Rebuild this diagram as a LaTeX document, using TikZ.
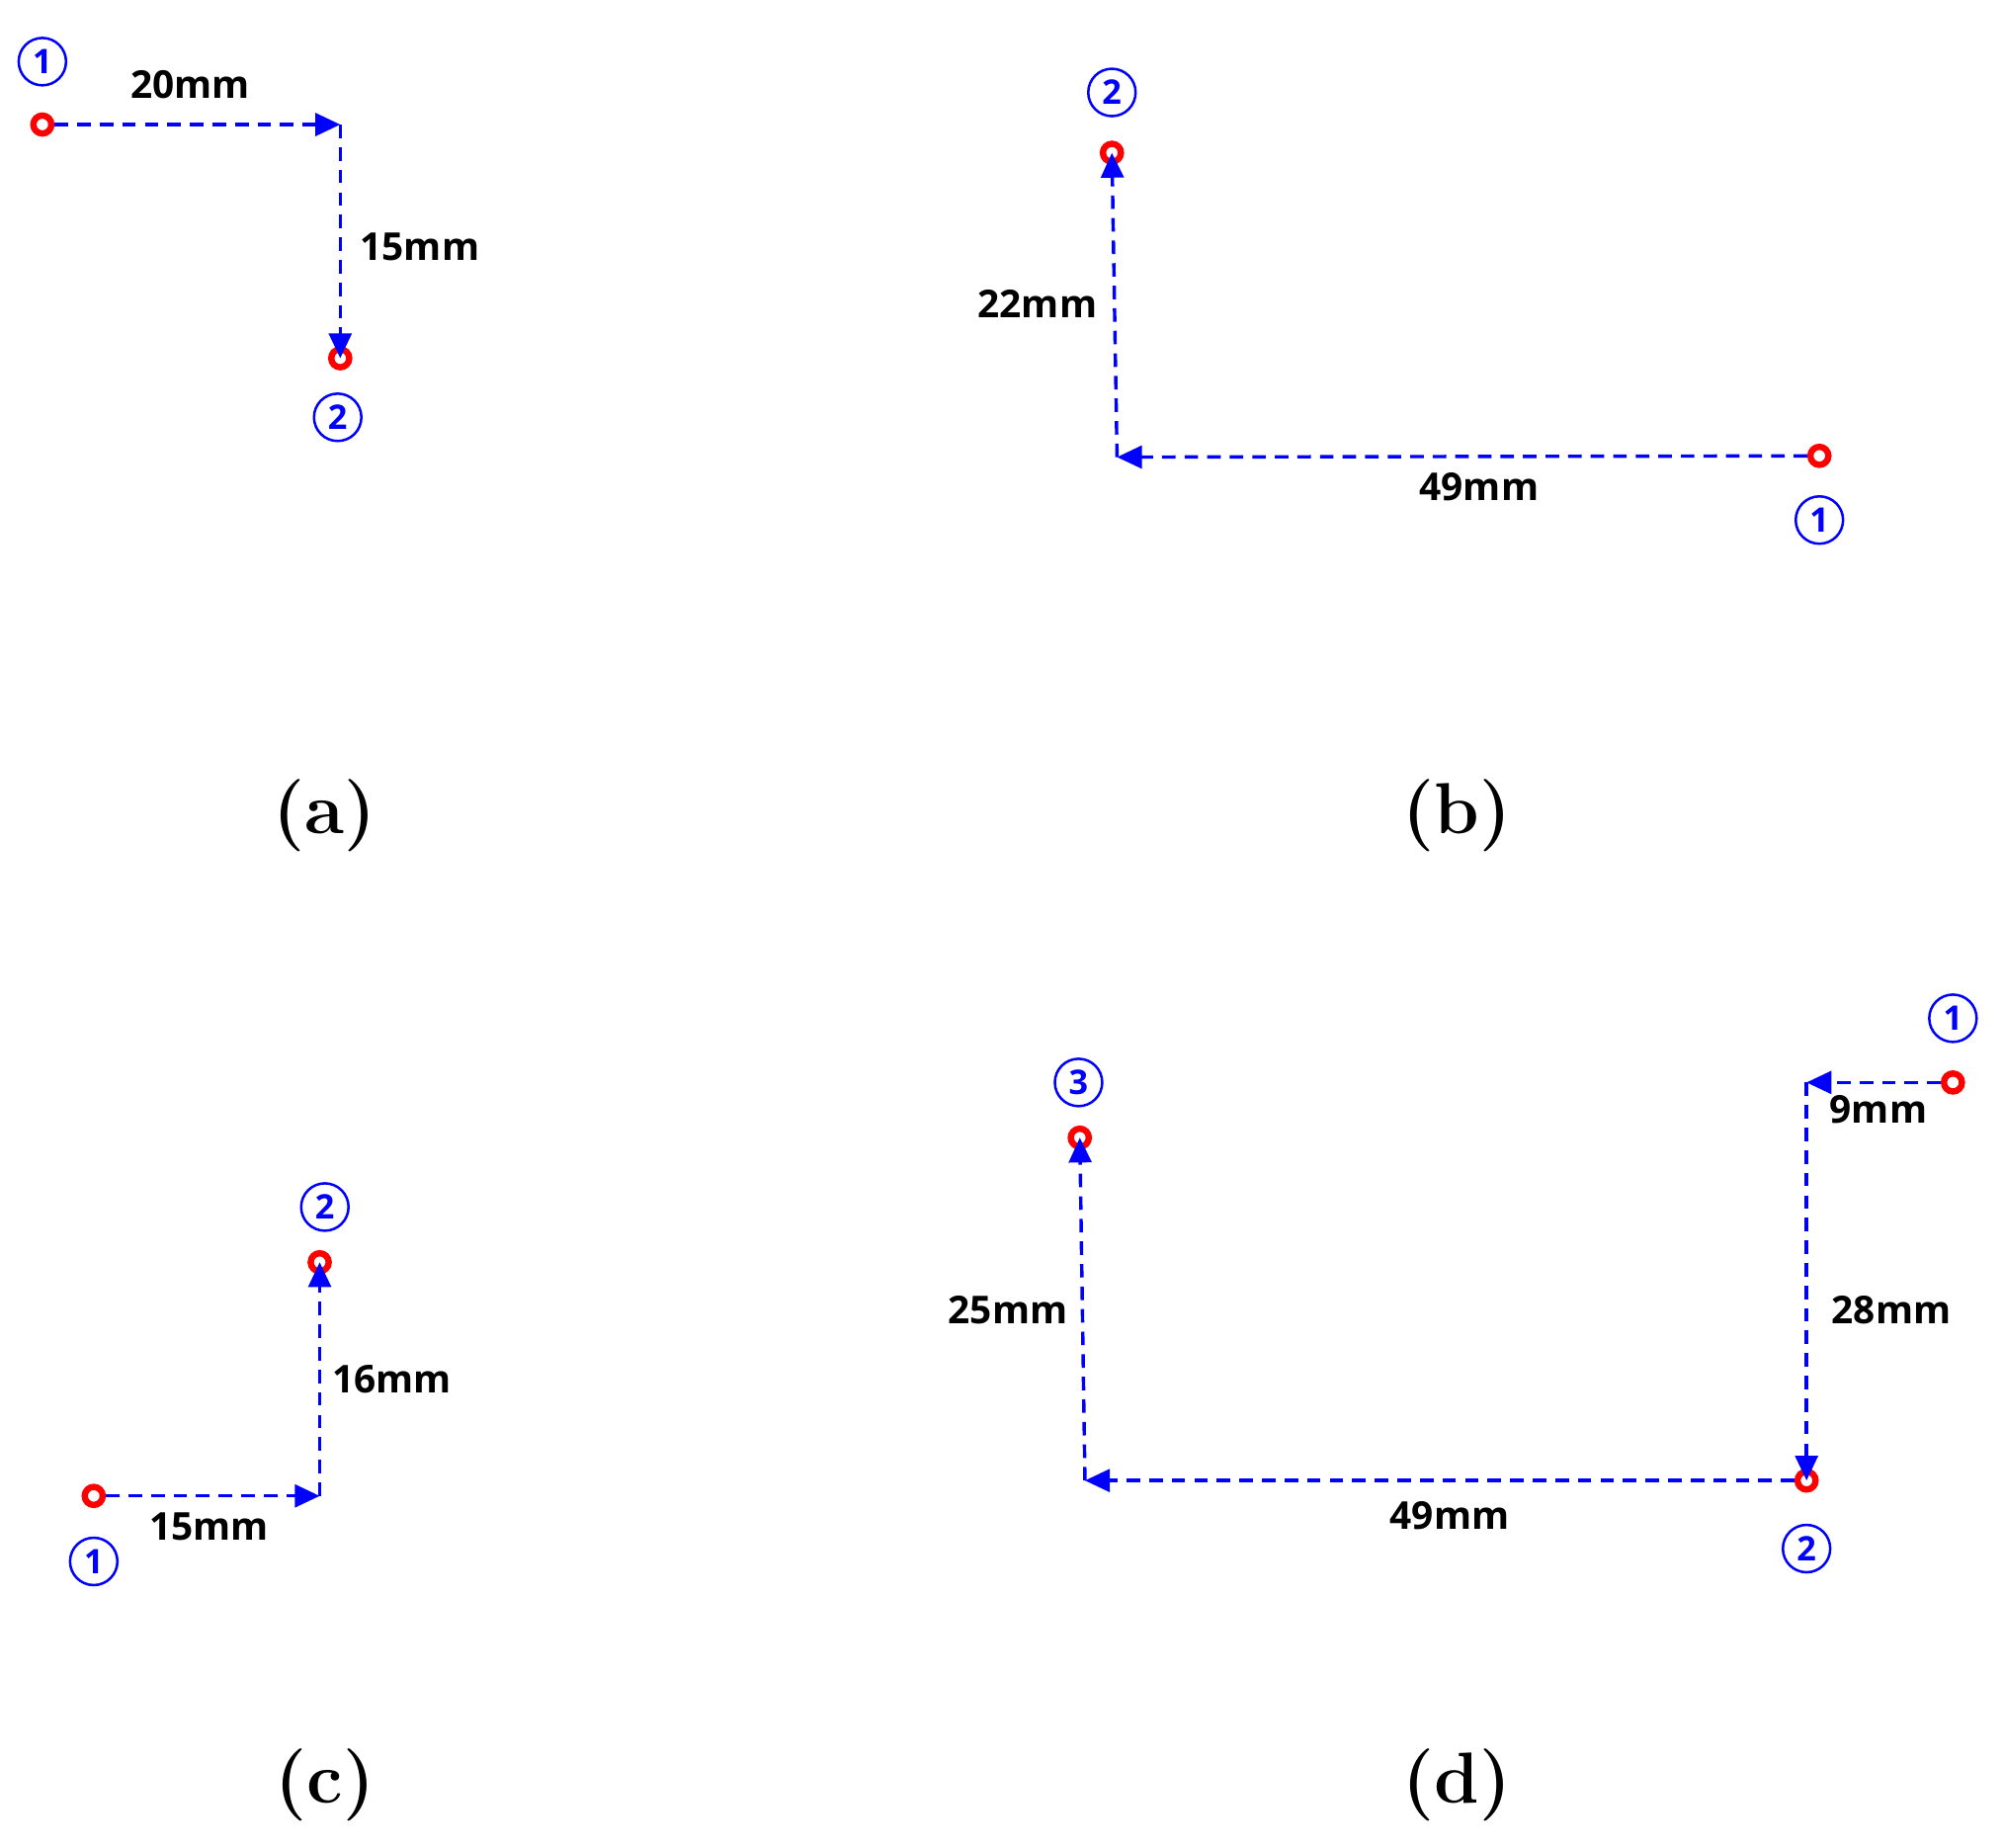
\documentclass[tikz,border=0pt]{standalone}
\usepackage{fontspec}
\setsansfont{Open Sans}
\usetikzlibrary{arrows.meta}
\begin{document}
\begin{tikzpicture}[x=0.02cm,y=-0.02cm,
  pt/.style={circle,draw=red,fill=white,line width=2.8pt,inner sep=0pt,minimum size=8pt},
  num/.style={circle,draw=blue,text=blue,line width=1.1pt,inner sep=0pt,minimum size=21pt,font=\sffamily\bfseries\fontsize{15}{15}\selectfont},
  lab/.style={font=\sffamily\bfseries\fontsize{17}{17}\selectfont},
  captext/.style={font=\bfseries\fontsize{32}{32}\selectfont},
  arr/.style={blue,dashed,line width=1.5pt,dash pattern=on 6pt off 4pt,-{Triangle[length=11pt,width=10pt]}}]
\useasboundingbox (0,0) rectangle (1560,1439);
% (a)
\node[pt] (a1) at (33,97) {};
\coordinate (ac) at (265,97);
\node[pt] (a2) at (265,279) {};
\draw[arr] (a1) -- (ac);
\draw[arr] (ac) -- (a2.center);
\node[num] (an1) at (33,48) {1};
\node[num] (an2) at (263,325) {2};
\node[lab] (al1) at (148,66) {20mm};
\node[lab] (al2) at (327,192) {15mm};
\node[captext] (ca) at (253,635) {(a)};
% (b)
\node[pt] (b2) at (866,119) {};
\coordinate (bc) at (870,356);
\node[pt] (b1) at (1417,355) {};
\draw[arr] (b1) -- (bc);
\draw[arr] (bc) -- (b2.center);
\node[num] (bn2) at (866,72) {2};
\node[num] (bn1) at (1417,405) {1};
\node[lab] (bl1) at (808,237) {22mm};
\node[lab] (bl2) at (1152,379) {49mm};
\node[captext] (cb) at (1135,635) {(b)};
% (c)
\node[pt] (c1) at (73,1165) {};
\coordinate (cc) at (249,1165);
\node[pt] (c2) at (249,983) {};
\draw[arr] (c1) -- (cc);
\draw[arr] (cc) -- (c2.center);
\node[num] (cn2) at (253,940) {2};
\node[num] (cn1) at (73,1216) {1};
\node[lab] (cl1) at (305,1074) {16mm};
\node[lab] (cl2) at (163,1189) {15mm};
\node[captext] (cC) at (253,1390) {(c)};
% (d)
\node[pt] (d1) at (1521,843) {};
\coordinate (dc1) at (1407,843);
\node[pt] (d2) at (1407,1153) {};
\coordinate (dc2) at (845,1153);
\node[pt] (d3) at (841,886) {};
\draw[arr] (d1) -- (dc1);
\draw[arr] (dc1) -- (d2.center);
\draw[arr] (d2) -- (dc2);
\draw[arr] (dc2) -- (d3.center);
\node[num] (dn1) at (1521,793) {1};
\node[num] (dn2) at (1407,1206) {2};
\node[num] (dn3) at (840,843) {3};
\node[lab] (dl1) at (1463,864) {9mm};
\node[lab] (dl2) at (1473,1020) {28mm};
\node[lab] (dl3) at (1129,1180) {49mm};
\node[lab] (dl4) at (785,1020) {25mm};
\node[captext] (cd) at (1135,1390) {(d)};
\end{tikzpicture}
\end{document}
